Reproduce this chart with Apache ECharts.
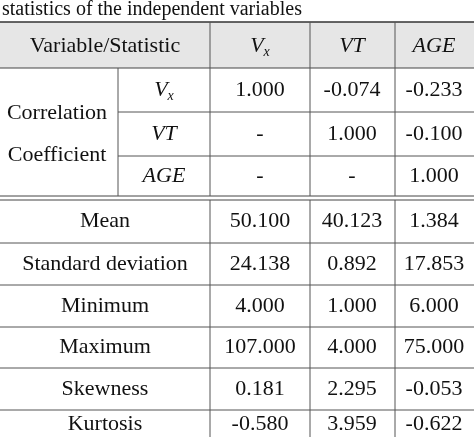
<!DOCTYPE html><html><head><meta charset="utf-8">
<script src="https://cdn.jsdelivr.net/npm/echarts@6/dist/echarts.min.js"></script>
<style>html,body{margin:0;padding:0;background:#fff}#c{width:474px;height:437px}</style></head><body><div id="c"></div>
<script>
const title = "statistics of the independent variables";
const headers = ["Variable/Statistic", "{i|V}{s|x}", "{i|VT}", "{i|AGE}"];
const corrVars = ["{i|V}{s|x}", "{i|VT}", "{i|AGE}"];
const corrValues = [["1.000","-0.074","-0.233"],["-","1.000","-0.100"],["-","-","1.000"]];
const statNames = ["Mean","Standard deviation","Minimum","Maximum","Skewness","Kurtosis"];
const statValues = [["50.100","40.123","1.384"],["24.138","0.892","17.853"],["4.000","1.000","6.000"],["107.000","4.000","75.000"],["0.181","2.295","-0.053"],["-0.580","3.959","-0.622"]];

const valCx = [260,352,434];
const corrY = [68,112,156,196];
const statY = [200,243,285,327,368,410,452];
const F = "'Liberation Serif', 'DejaVu Serif', serif";
const rich = {i:{fontStyle:'italic',fontSize:22,fontFamily:F,fill:'#111'}, s:{fontStyle:'italic',fontSize:14,fontFamily:F,fill:'#111',verticalAlign:'bottom',padding:[13,0,0,0]}};
const els = [];
function txt(x,y,t,r){els.push({type:'text',x,y,style:{text:t,x:0,y:0,align:'center',verticalAlign:'middle',font:"22px "+F,fill:'#111',rich:r?rich:undefined}});}
function line(x1,y1,x2,y2,c,w){els.push({type:'line',shape:{x1,y1,x2,y2},style:{stroke:c||'#555',lineWidth:w||1}});}
els.push({type:'rect',shape:{x:0,y:22,width:474,height:46},style:{fill:'#e6e6e6'}});
els.push({type:'text',x:2,y:10,style:{text:title,x:0,y:0,verticalAlign:'middle',font:"20px "+F,fill:'#111'}});
txt(105,46,headers[0]); for(let k=0;k<3;k++) txt(valCx[k],46,headers[k+1],true);
for(let r=0;r<3;r++){const cy=(corrY[r]+corrY[r+1])/2; txt(164,cy,corrVars[r],true); for(let k=0;k<3;k++) txt(valCx[k],cy,corrValues[r][k]);}
txt(57,113,"Correlation"); txt(57,155,"Coefficient");
for(let r=0;r<6;r++){const cy=(statY[r]+statY[r+1])/2-(r==5?7:0); txt(105,cy,statNames[r]); for(let k=0;k<3;k++) txt(valCx[k],cy,statValues[r][k]);}
line(0,22,474,22,'#333',1.5); line(0,68,474,68,'#444',1.2);
line(118,112,474,112); line(118,156,474,156);
line(0,196,474,196,'#444'); line(0,200,474,200,'#444');
[243,285,327,368,410].forEach(y=>line(0,y,474,y));
line(118,68,118,196); [210,310,395].forEach(x=>{line(x,22,x,196);line(x,200,x,437);});
const chart = echarts.init(document.getElementById('c'));
chart.setOption({animation:false,graphic:{elements:els}});
</script></body></html>
